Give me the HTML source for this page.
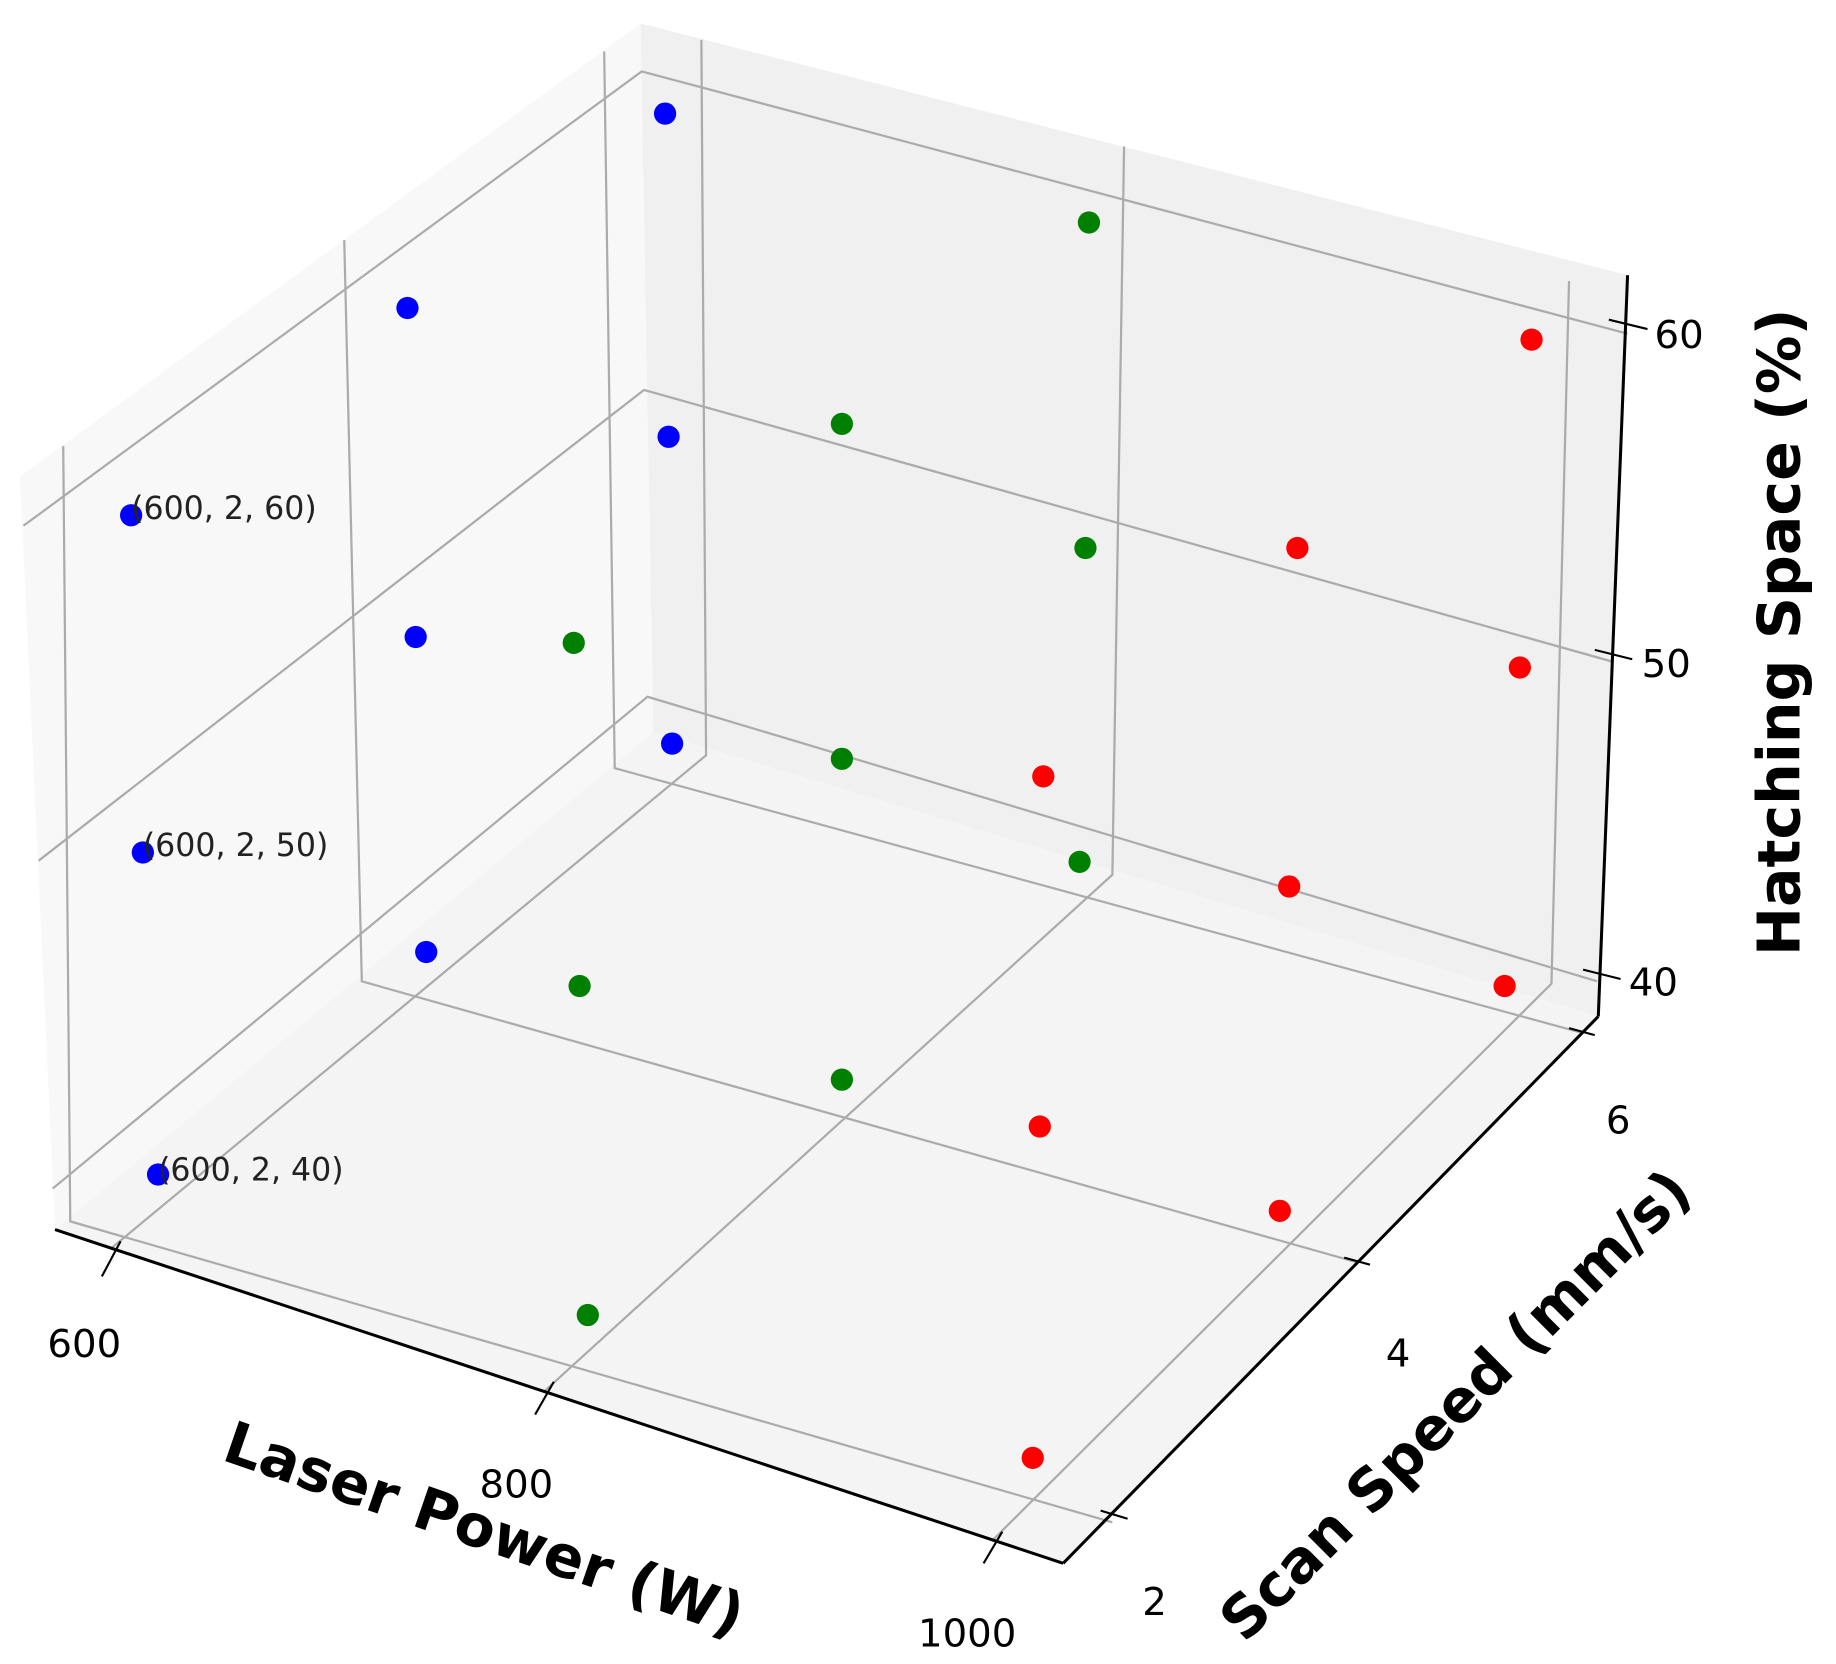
<!DOCTYPE html>
<html><head><meta charset="utf-8">
<style>
html,body{margin:0;padding:0;background:#fff;}
svg{display:block;}
text{font-family:"DejaVu Sans","Liberation Sans",sans-serif;}
</style></head>
<body>
<svg width="1836" height="1664" viewBox="0 0 1568 1421" preserveAspectRatio="none" xmlns="http://www.w3.org/2000/svg">
<rect x="0" y="0" width="1568" height="1421" fill="#fff"/>
<polygon points="17,407 547,20 558,625 47,1050" fill="#f8f8f8"/>
<polygon points="547,20 1390,235 1365,868 558,625" fill="#f0f0f0"/>
<polygon points="47,1050 558,625 1365,868 908,1335" fill="#f4f4f4"/>
<g stroke="#ababab" stroke-width="1.9" fill="none">
  <polyline points="95,1066 603,645 599,34"/>
  <polyline points="465,1188 950,747 960,125"/>
  <polyline points="848,1315 1325,840 1340,240"/>
  <polyline points="54,381 60,1043 950,1300"/>
  <polyline points="294,205 309,838 1159,1078"/>
  <polyline points="516,44 525,656 1351,882"/>
  <polyline points="20,449 548,61 1390,285"/>
  <polyline points="33,735 550,333 1377,565"/>
  <polyline points="45,1015 553,595 1364,838"/>
</g>
<g stroke="#000" stroke-width="2.6" fill="none">
  <line x1="47" y1="1050" x2="908" y2="1335"/>
  <line x1="908" y1="1335" x2="1365" y2="868"/>
  <line x1="1365" y1="868" x2="1390" y2="235"/>
</g>
<g stroke="#000" stroke-width="1.8">
  <line x1="87" y1="1090" x2="103" y2="1060"/>
  <line x1="457" y1="1208" x2="473" y2="1180"/>
  <line x1="840" y1="1335" x2="856" y2="1308"/>
  <line x1="940" y1="1290" x2="963" y2="1297"/>
  <line x1="1148" y1="1074" x2="1170" y2="1080"/>
  <line x1="1340" y1="878" x2="1362" y2="884"/>
  <line x1="1374" y1="273" x2="1407" y2="281"/>
  <line x1="1362" y1="555" x2="1394" y2="563"/>
  <line x1="1352" y1="828" x2="1384" y2="836"/>
</g>
<g font-size="33" fill="#000" text-anchor="middle">
  <text x="72" y="1159">600</text>
  <text x="441" y="1279">800</text>
  <text x="826" y="1406">1000</text>
  <text x="986" y="1379">2</text>
  <text x="1194" y="1167">4</text>
  <text x="1382" y="968">6</text>
  <text x="1434" y="297">60</text>
  <text x="1423" y="578">50</text>
  <text x="1412" y="850">40</text>
</g>
<g font-size="50" font-weight="bold" fill="#000" text-anchor="middle">
  <text transform="translate(408,1322) rotate(19)">Laser Power (W)</text>
  <text transform="translate(1243,1200) rotate(-45)" dy="17">Scan Speed (mm/s)</text>
  <text transform="translate(1520,540) rotate(-90)" dy="17">Hatching Space (%)</text>
</g>
<g fill="#0000ff">
  <circle cx="568" cy="97" r="9.5"/><circle cx="348" cy="263" r="9.5"/><circle cx="571" cy="373" r="9.5"/>
  <circle cx="112" cy="440" r="9.5"/><circle cx="355" cy="544" r="9.5"/><circle cx="574" cy="635" r="9.5"/>
  <circle cx="122" cy="728" r="9.5"/><circle cx="364" cy="813" r="9.5"/><circle cx="135" cy="1003" r="9.5"/>
</g>
<g fill="#008000">
  <circle cx="930" cy="190" r="9.5"/><circle cx="719" cy="362" r="9.5"/><circle cx="927" cy="468" r="9.5"/>
  <circle cx="490" cy="549" r="9.5"/><circle cx="719" cy="648" r="9.5"/><circle cx="922" cy="736" r="9.5"/>
  <circle cx="495" cy="842" r="9.5"/><circle cx="719" cy="922" r="9.5"/><circle cx="502" cy="1123" r="9.5"/>
</g>
<g fill="#ff0000">
  <circle cx="1308" cy="290" r="9.5"/><circle cx="1108" cy="468" r="9.5"/><circle cx="1298" cy="570" r="9.5"/>
  <circle cx="891" cy="663" r="9.5"/><circle cx="1101" cy="757" r="9.5"/><circle cx="1285" cy="842" r="9.5"/>
  <circle cx="888" cy="962" r="9.5"/><circle cx="1093" cy="1034" r="9.5"/><circle cx="882" cy="1245" r="9.5"/>
</g>
<g font-size="27" fill="#222">
  <text x="112" y="443">(600, 2, 60)</text>
  <text x="122" y="731">(600, 2, 50)</text>
  <text x="135" y="1008">(600, 2, 40)</text>
</g>
</svg>
</body></html>
